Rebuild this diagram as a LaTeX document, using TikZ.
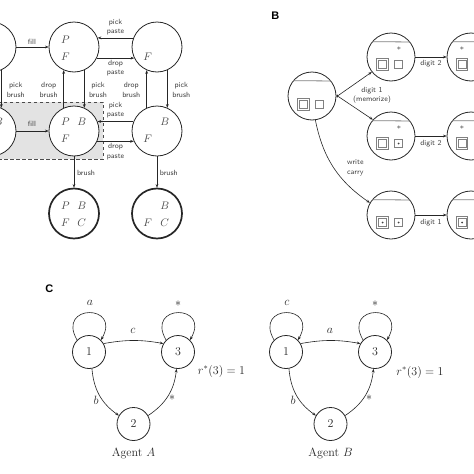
\documentclass[tikz,border=0pt]{standalone}
\usepackage{fontspec}
\newfontfamily\panelfont{Liberation Sans}
\usetikzlibrary{arrows.meta}
\begin{document}
\begin{tikzpicture}[x=1pt,y=1pt,
  st/.style={circle,draw=black!85,line width=0.8pt,minimum size=50pt,inner sep=0pt,fill=white},
  fin/.style={st,line width=1.7pt},
  lab/.style={font=\sffamily\fontsize{7.5}{9.6}\selectfont,text=black!75,inner sep=0pt,align=center},
  ml/.style={font=\fontsize{10.5}{12}\selectfont,text=black!70,inner sep=0pt},
  arr/.style={-{Stealth[length=3.6pt,width=2.8pt]},line width=0.6pt,draw=black!85},
  bst/.style={circle,draw=black!85,line width=0.8pt,minimum size=48pt,inner sep=0pt},
  chord/.style={draw=black!50,line width=0.8pt},
  sqline/.style={draw=black!50,line width=0.7pt},
  star/.style={font=\fontsize{8}{8}\selectfont,inner sep=0pt,text=black!80},
  cst/.style={circle,draw=black!85,line width=0.8pt,minimum size=33pt,inner sep=0pt,font=\fontsize{12}{14}\selectfont,text=black!85},
  clab/.style={font=\fontsize{12}{14}\selectfont,inner sep=0pt,text=black!85},
  panel/.style={font=\panelfont\bfseries\fontsize{11}{13}\selectfont,inner sep=0pt},
  dsq/.pic={\draw[sqline] (-5.75,-5.75) rectangle (5.75,5.75); \draw[sqline] (-4,-4) rectangle (4,4);},
  ssq/.pic={\draw[sqline] (-4,-4) rectangle (4,4);},
  dotm/.pic={\fill[black!75] (0,0) circle (1);}
]
\useasboundingbox (0,-474) rectangle (474,0);

% ---------------- Panel A ----------------
\draw[dash pattern=on 3.5pt off 2.5pt,fill=gray!22,line width=0.7pt,draw=black!70] (-5,-102) rectangle (103,-159);

\node[st] (l1) at (-9,-47) {};
\node[st] (pf) at (74,-47) {};
\node[st] (f) at (157,-47) {};
\node[st] (l2) at (-9,-131) {};
\node[st] (pbf) at (74,-131) {};
\node[st] (bf) at (157,-131) {};
\node[fin] (pbfc) at (74,-213.5) {};
\node[fin] (bfc) at (157,-213.5) {};

\node[ml] (pfP) at (65.5,-40) {$P$};
\node[ml] (pfF) at (65.5,-56.7) {$F$};
\node[ml] (fF) at (147.7,-56.7) {$F$};
\node[ml] (l2B) at (-1.5,-122) {$B$};
\node[ml] (pbfP) at (65.5,-122) {$P$};
\node[ml] (pbfB) at (81.7,-122) {$B$};
\node[ml] (pbfF) at (65.5,-139) {$F$};
\node[ml] (bfB) at (164.7,-122) {$B$};
\node[ml] (bfF) at (147.7,-139) {$F$};
\node[ml] (pbfcP) at (65.5,-205.7) {$P$};
\node[ml] (pbfcB) at (81.7,-205.7) {$B$};
\node[ml] (pbfcF) at (65.5,-222.3) {$F$};
\node[ml] (pbfcC) at (81.7,-222.3) {$C$};
\node[ml] (bfcB) at (164.7,-205.7) {$B$};
\node[ml] (bfcF) at (147.7,-222.3) {$F$};
\node[ml] (bfcC) at (164.7,-222.3) {$C$};

\draw[arr] (l1) -- (pf);
\draw[arr] (l2) -- (pbf);
\draw[arr] (f.159) -- (pf.21);
\draw[arr] (pf.-26) -- (f.206);
\draw[arr] (bf.158) -- (pbf.22);
\draw[arr] (pbf.-24) -- (bf.204);
\draw[arr] (l1.-66) -- (l2.66);
\draw[arr] (pbf.114) -- (pf.-114);
\draw[arr] (pf.-66) -- (pbf.66);
\draw[arr] (bf.114) -- (f.-114);
\draw[arr] (f.-66) -- (bf.66);
\draw[arr] (pbf) -- (pbfc);
\draw[arr] (bf) -- (bfc);

\node[lab] (tfill1) at (32,-41.5) {fill};
\node[lab] (tfill2) at (32,-124) {fill};
\node[lab] (tpp1) at (115.5,-27) {pick\\paste};
\node[lab] (tdp1) at (115.5,-68) {drop\\paste};
\node[lab] (tpp2) at (115.5,-110) {pick\\paste};
\node[lab] (tdp2) at (115.5,-151.5) {drop\\paste};
\node[lab] (tpb0) at (15.8,-90) {pick\\brush};
\node[lab] (tdb1) at (48.7,-90) {drop\\brush};
\node[lab] (tpb1) at (98,-90) {pick\\brush};
\node[lab] (tdb2) at (131.3,-90) {drop\\brush};
\node[lab] (tpb2) at (181.3,-90) {pick\\brush};
\node[lab] (tbr1) at (86,-172.7) {brush};
\node[lab] (tbr2) at (168.8,-172.7) {brush};

% ---------------- Panel B ----------------
\node[panel] (pB) at (275.3,-15.7) {B};
\node[bst] (b0) at (312,-96) {};
\node[bst] (b1) at (391,-57) {};
\node[bst] (b2) at (391,-136) {};
\node[bst] (b3) at (391,-215) {};
\node[bst] (b4) at (471,-57) {};
\node[bst] (b5) at (471,-136) {};
\node[bst] (b6) at (471,-215) {};

\foreach \n in {b0,b1,b2,b3,b4,b5,b6}{
  \draw[chord] (\n.141.3) -- (\n.38.7);
}
\pic at (303.5,-104.5) {dsq};
\pic at (319,-104.5) {ssq};
\node[star] (s1) at (399,-49) {$*$};
\pic at (382.5,-64.5) {dsq};
\pic at (398.7,-64.5) {ssq};
\node[star] (s2) at (399,-128) {$*$};
\pic at (382.5,-143.5) {dsq};
\pic at (398.7,-143.5) {ssq};
\pic at (398.7,-143.5) {dotm};
\pic at (382.5,-222.5) {dsq};
\pic at (382.5,-222.5) {dotm};
\pic at (398.7,-222.5) {ssq};
\pic at (398.7,-222.5) {dotm};
\node[star] (s4) at (462,-49) {$*$};
\pic at (462,-64.5) {dsq};
\node[star] (s5) at (462,-128) {$*$};
\pic at (462,-143.5) {dsq};
\pic at (462,-222.5) {dsq};
\pic at (462,-222.5) {dotm};

\node[circle,fill=black!85,inner sep=0pt,minimum size=3pt] (bdot) at (337.5,-96) {};
\draw[arr] (bdot) -- (b1.218);
\draw[arr] (bdot) -- (b2.138);
\draw[arr] (b0.-82) to[bend right=22] (b3.150);
\draw[arr] (b1) -- (b4);
\draw[arr] (b2) -- (b5);
\draw[arr] (b3) -- (b6);

\node[lab] (tmem) at (372,-95.3) {digit 1\\(memorize)};
\node[lab] (td2a) at (431,-63.3) {digit 2};
\node[lab] (td2b) at (431,-143.3) {digit 2};
\node[lab] (td1) at (431,-222.7) {digit 1};
\node[lab] (twc) at (355.3,-167.5) {write\\carry};

% ---------------- Panel C ----------------
\node[panel] (pC) at (49.3,-288.3) {C};

\node[cst] (a1) at (89,-352) {1};
\node[cst] (a3) at (178,-352) {3};
\node[cst] (a2) at (133.5,-424) {2};
\draw[arr] (a1.135) .. controls +(120:42) and +(60:42) .. (a1.45);
\draw[arr] (a3.135) .. controls +(120:42) and +(60:42) .. (a3.45);
\draw[arr] (a1.30) to[bend left=10] (a3.150);
\draw[arr] (a1.-80) to[bend right=25] (a2.150);
\draw[arr] (a2.30) to[bend right=25] (a3.-95);
\node[clab] (la) at (90,-303) {$a$};
\node[clab] (lsa) at (178,-304) {$*$};
\node[clab] (lc) at (133,-331) {$c$};
\node[clab] (lb) at (96,-400) {$b$};
\node[clab] (ls2) at (172,-398) {$*$};
\node[clab] (lra) at (221.5,-371) {$r^*(3)=1$};
\node[clab] (agA) at (133.5,-453) {Agent $A$};

\node[cst] (c1) at (286,-352) {1};
\node[cst] (c3) at (375,-352) {3};
\node[cst] (c2) at (330.5,-424) {2};
\draw[arr] (c1.135) .. controls +(120:42) and +(60:42) .. (c1.45);
\draw[arr] (c3.135) .. controls +(120:42) and +(60:42) .. (c3.45);
\draw[arr] (c1.30) to[bend left=10] (c3.150);
\draw[arr] (c1.-80) to[bend right=25] (c2.150);
\draw[arr] (c2.30) to[bend right=25] (c3.-95);
\node[clab] (lcc) at (287,-303) {$c$};
\node[clab] (lsc) at (375,-304) {$*$};
\node[clab] (lca) at (330,-331) {$a$};
\node[clab] (lcb) at (293,-400) {$b$};
\node[clab] (lcs) at (369,-398) {$*$};
\node[clab] (lrb) at (420,-372) {$r^*(3)=1$};
\node[clab] (agB) at (330.5,-453) {Agent $B$};
\end{tikzpicture}
\end{document}
